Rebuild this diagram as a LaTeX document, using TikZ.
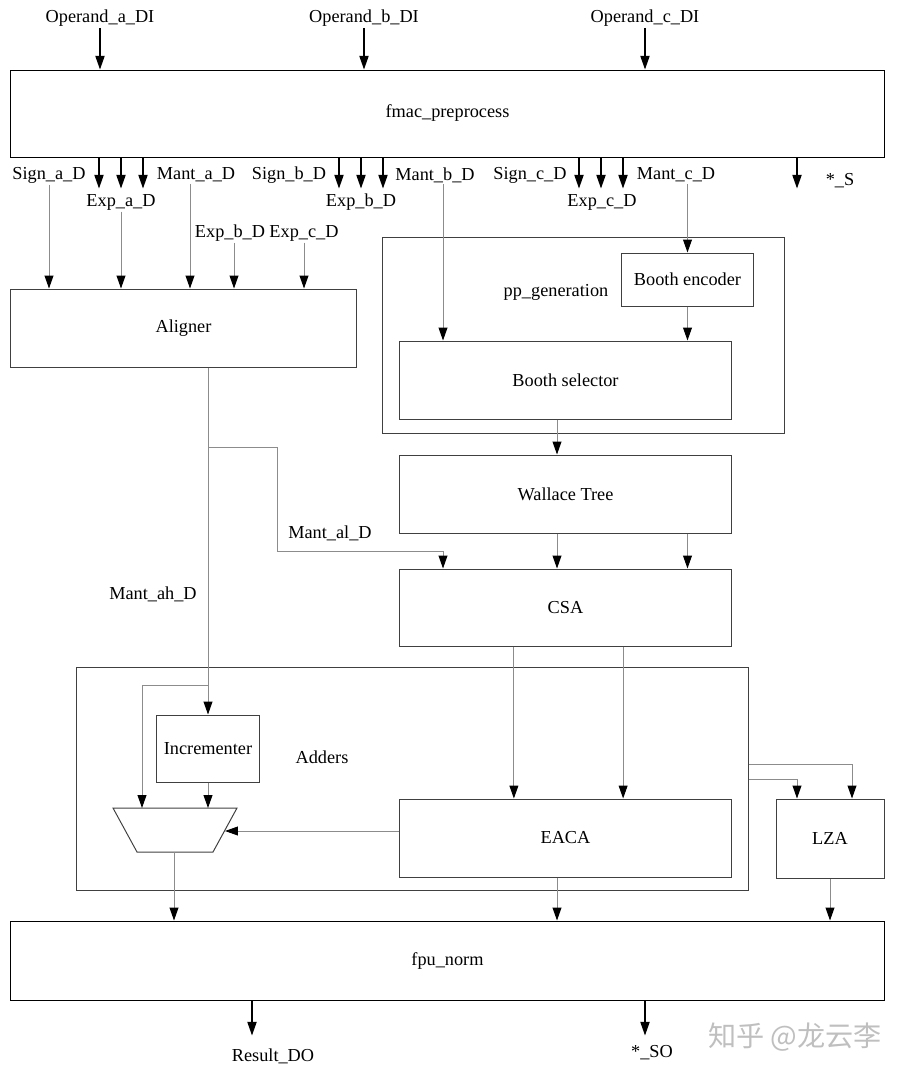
\documentclass[tikz,border=0pt]{standalone}
\usepackage{fontspec}
\setmainfont{Liberation Serif}
\newfontfamily\cjk{Noto Sans CJK SC}
\usetikzlibrary{positioning,arrows.meta,calc}
\tikzset{
  box/.style={draw=black!75, line width=0.7pt, align=center, inner sep=2pt},
  sig/.style={inner sep=1pt},
  bus/.style={-{Triangle[length=3.4mm, width=2.3mm]}, line width=0.9pt},
  link/.style={draw=black!45, line width=0.7pt,
               -{Triangle[length=3.2mm, width=2.2mm, color=black]}},
  wire/.style={draw=black!45, line width=0.7pt},
}

\begin{document}
\begin{tikzpicture}[x=0.025cm, y=-0.025cm, font=\fontsize{13}{15}\selectfont]
  \useasboundingbox (0,0) rectangle (897,1074);
  % columns shared by several wires
  \coordinate (colb) at (443,0);
  \coordinate (colm) at (142,0);
  \coordinate (mid) at (557,0);

  % operands and preprocess
  \node[sig] (opa) at (100,18) {Operand\_a\_DI};
  \node[sig] (opb) at (364,18) {Operand\_b\_DI};
  \node[sig] (opc) at (645,18) {Operand\_c\_DI};
  \node[box, draw=black, minimum width=21.825cm, minimum height=2.175cm] (pre) at (447.5,113.5) {fmac\_preprocess};
  \draw[bus] (opa) -- (opa |- pre.north);
  \draw[bus] (opb) -- (opb |- pre.north);
  \draw[bus] (opc) -- (opc |- pre.north);
  \foreach \x in {99,121,143,339,361,383,579,601,623,797}
    \draw[bus] (pre.south -| \x,0) -- ++(0,31);

  \node[sig] (signa) at (49,175) {Sign\_a\_D};
  \node[sig] (manta) at (196,175) {Mant\_a\_D};
  \node[sig] (expa) at (121,202) {Exp\_a\_D};
  \node[sig] (signb) at (289,175) {Sign\_b\_D};
  \node[sig] (mantb) at (435,175) {Mant\_b\_D};
  \node[sig] (expb) at (361,202) {Exp\_b\_D};
  \node[sig] (signc) at (530,175) {Sign\_c\_D};
  \node[sig] (mantc) at (676,175) {Mant\_c\_D};
  \node[sig] (expc) at (602,202) {Exp\_c\_D};
  \node[sig] (stat) at (840,181) {*\_S};
  \node[sig] (expb2) at (230,233) {Exp\_b\_D};
  \node[sig] (expc2) at (304,233) {Exp\_c\_D};

  % aligner
  \node[box, minimum width=8.625cm, minimum height=1.95cm] (aligner) at (183.5,328) {Aligner};
  \draw[link] (signa.south) -- (signa.south |- aligner.north);
  \draw[link] (expa.south) -- (expa.south |- aligner.north);
  \draw[link] ([xshift=-0.15cm]manta.south) -- ([xshift=-0.15cm]manta.south |- aligner.north);
  \draw[link] ([xshift=0.1cm]expb2.south) -- ([xshift=0.1cm]expb2.south |- aligner.north);
  \draw[link] (expc2.south) -- (expc2.south |- aligner.north);

  % multiplier
  \node[box, minimum width=10.025cm, minimum height=4.875cm] (ppgen) at (583.5,335.5) {};
  \node[sig] (pplbl) at (556,292) {pp\_generation};
  \node[box, minimum width=3.275cm, minimum height=1.325cm] (enc) at (687.5,279.5) {Booth encoder};
  \node[box, minimum width=8.275cm, minimum height=1.95cm] (sel) at (565.5,380) {Booth selector};
  \node[box, minimum width=8.275cm, minimum height=1.95cm] (wallace) at (565.5,494) {Wallace Tree};
  \node[box, minimum width=8.275cm, minimum height=1.925cm] (csa) at (565.5,607.5) {CSA};
  \draw[link] (mantc.south -| enc) -- (enc.north);
  \draw[link] (mantb.south -| colb) -- (sel.north -| colb);
  \draw[link] (enc.south) -- (enc.south |- sel.north);
  \draw[link] (sel.south -| mid) -- (wallace.north -| mid);
  \draw[link] (wallace.south -| mid) -- (csa.north -| mid);
  \draw[link] (wallace.south -| enc) -- (csa.north -| enc);

  % aligned mantissa
  \coordinate (tapal) at (208,447);
  \coordinate (tapah) at (208,685);
  \node[sig] (mantal) at (330,533) {Mant\_al\_D};
  \node[sig] (mantah) at (153,594) {Mant\_ah\_D};
  \draw[wire] (tapal) -- (277,447) -- (277,551) -- (colb |- 0,551);
  \draw[link] (colb |- 0,551) -- (csa.north -| colb);

  % adders
  \node[box, minimum width=16.775cm, minimum height=5.55cm] (adders) at (412.5,779) {};
  \node[sig] (addlbl) at (322,757) {Adders};
  \node[box, minimum width=2.55cm, minimum height=1.675cm] (inc) at (208,748.5) {Incrementer};
  \node[box, minimum width=8.275cm, minimum height=1.95cm] (eaca) at (565.5,838) {EACA};
  \draw[draw=black!75, line width=0.7pt] (113,808) coordinate (muxtl) -- (237,808) -- (213,852) -- (137,852) -- cycle;
  \coordinate (muxr) at (225,831);
  \coordinate (muxout) at (174,852);
  \draw[link] (aligner.south -| inc) -- (inc.north);
  \draw[link] (tapah) -| (colm |- muxtl);
  \draw[link] (inc.south) -- (inc.south |- muxtl);
  \draw[link] (eaca.west |- muxr) -- (muxr);
  \draw[link] ([xshift=-1.29cm]csa.south) -- ([xshift=-1.29cm]eaca.north);
  \draw[link] ([xshift=1.44cm]csa.south) -- ([xshift=1.44cm]eaca.north);

  % lza and normalisation
  \node[box, minimum width=2.7cm, minimum height=1.975cm] (lza) at (830,838.5) {LZA};
  \draw[link] ([yshift=0.375cm]adders.east) -| ([xshift=0.55cm]lza.north);
  \draw[link] (adders.east) -| ([xshift=-0.825cm]lza.north);
  \node[box, draw=black, minimum width=21.825cm, minimum height=1.975cm] (norm) at (447.5,960.5) {fpu\_norm};
  \draw[link] (muxout) -- (muxout |- norm.north);
  \draw[link] (eaca.south -| mid) -- (norm.north -| mid);
  \draw[link] (lza.south) -- (lza.south |- norm.north);

  % results
  \node[sig] (res) at (273,1056) {Result\_DO};
  \node[sig] (so) at (652,1053) {*\_SO};
  \draw[bus] (norm.south -| 252,0) -- ++(0,35);
  \draw[bus] (norm.south -| 645,0) -- ++(0,35);
  \node[text=black!25, font=\cjk\fontsize{20}{24}\selectfont] (mark) at (795,1037) {知乎 @龙云李};
\end{tikzpicture}
\end{document}
